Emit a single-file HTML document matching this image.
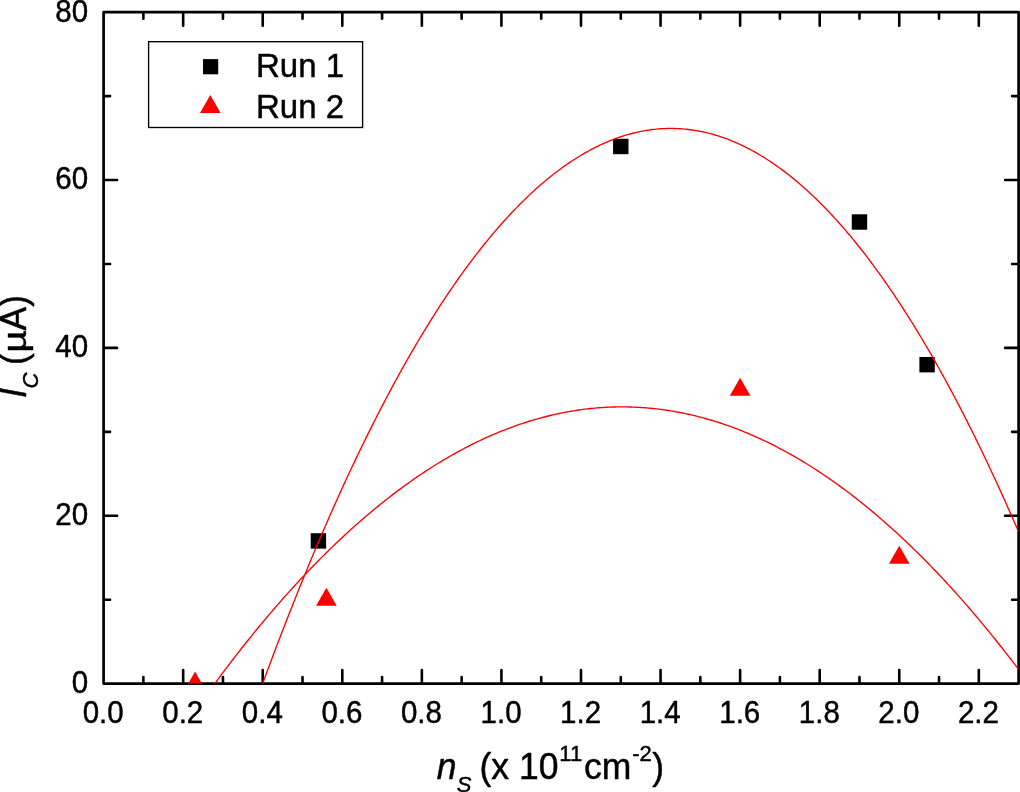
<!DOCTYPE html>
<html lang="en"><head><meta charset="utf-8"><title>Ic vs ns</title>
<style>html,body{margin:0;padding:0;background:#fff;overflow:hidden}svg{display:block}text{font-family:"Liberation Sans", Arial, Helvetica, sans-serif;fill:#000;stroke:#000;stroke-width:0.45px;stroke-linejoin:round}</style>
</head><body>
<svg width="1020" height="792" viewBox="0 0 1020 792">
<rect x="0" y="0" width="1020" height="792" fill="#fff"/>
<defs><clipPath id="plot"><rect x="103.60" y="12.20" width="915.00" height="671.40"/></clipPath></defs>
<g stroke="#000" stroke-width="2.60" stroke-linecap="round" fill="none">
<line x1="143.38" y1="683.00" x2="143.38" y2="677.10"/>
<line x1="143.38" y1="12.80" x2="143.38" y2="18.70"/>
<line x1="183.17" y1="683.00" x2="183.17" y2="670.10"/>
<line x1="183.17" y1="12.80" x2="183.17" y2="25.70"/>
<line x1="222.95" y1="683.00" x2="222.95" y2="677.10"/>
<line x1="222.95" y1="12.80" x2="222.95" y2="18.70"/>
<line x1="262.73" y1="683.00" x2="262.73" y2="670.10"/>
<line x1="262.73" y1="12.80" x2="262.73" y2="25.70"/>
<line x1="302.51" y1="683.00" x2="302.51" y2="677.10"/>
<line x1="302.51" y1="12.80" x2="302.51" y2="18.70"/>
<line x1="342.30" y1="683.00" x2="342.30" y2="670.10"/>
<line x1="342.30" y1="12.80" x2="342.30" y2="25.70"/>
<line x1="382.08" y1="683.00" x2="382.08" y2="677.10"/>
<line x1="382.08" y1="12.80" x2="382.08" y2="18.70"/>
<line x1="421.86" y1="683.00" x2="421.86" y2="670.10"/>
<line x1="421.86" y1="12.80" x2="421.86" y2="25.70"/>
<line x1="461.64" y1="683.00" x2="461.64" y2="677.10"/>
<line x1="461.64" y1="12.80" x2="461.64" y2="18.70"/>
<line x1="501.43" y1="683.00" x2="501.43" y2="670.10"/>
<line x1="501.43" y1="12.80" x2="501.43" y2="25.70"/>
<line x1="541.21" y1="683.00" x2="541.21" y2="677.10"/>
<line x1="541.21" y1="12.80" x2="541.21" y2="18.70"/>
<line x1="580.99" y1="683.00" x2="580.99" y2="670.10"/>
<line x1="580.99" y1="12.80" x2="580.99" y2="25.70"/>
<line x1="620.77" y1="683.00" x2="620.77" y2="677.10"/>
<line x1="620.77" y1="12.80" x2="620.77" y2="18.70"/>
<line x1="660.56" y1="683.00" x2="660.56" y2="670.10"/>
<line x1="660.56" y1="12.80" x2="660.56" y2="25.70"/>
<line x1="700.34" y1="683.00" x2="700.34" y2="677.10"/>
<line x1="700.34" y1="12.80" x2="700.34" y2="18.70"/>
<line x1="740.12" y1="683.00" x2="740.12" y2="670.10"/>
<line x1="740.12" y1="12.80" x2="740.12" y2="25.70"/>
<line x1="779.90" y1="683.00" x2="779.90" y2="677.10"/>
<line x1="779.90" y1="12.80" x2="779.90" y2="18.70"/>
<line x1="819.69" y1="683.00" x2="819.69" y2="670.10"/>
<line x1="819.69" y1="12.80" x2="819.69" y2="25.70"/>
<line x1="859.47" y1="683.00" x2="859.47" y2="677.10"/>
<line x1="859.47" y1="12.80" x2="859.47" y2="18.70"/>
<line x1="899.25" y1="683.00" x2="899.25" y2="670.10"/>
<line x1="899.25" y1="12.80" x2="899.25" y2="25.70"/>
<line x1="939.03" y1="683.00" x2="939.03" y2="677.10"/>
<line x1="939.03" y1="12.80" x2="939.03" y2="18.70"/>
<line x1="978.82" y1="683.00" x2="978.82" y2="670.10"/>
<line x1="978.82" y1="12.80" x2="978.82" y2="25.70"/>
<line x1="104.20" y1="599.68" x2="110.10" y2="599.68"/>
<line x1="1018.00" y1="599.68" x2="1012.10" y2="599.68"/>
<line x1="104.20" y1="515.75" x2="117.10" y2="515.75"/>
<line x1="1018.00" y1="515.75" x2="1005.10" y2="515.75"/>
<line x1="104.20" y1="431.83" x2="110.10" y2="431.83"/>
<line x1="1018.00" y1="431.83" x2="1012.10" y2="431.83"/>
<line x1="104.20" y1="347.90" x2="117.10" y2="347.90"/>
<line x1="1018.00" y1="347.90" x2="1005.10" y2="347.90"/>
<line x1="104.20" y1="263.98" x2="110.10" y2="263.98"/>
<line x1="1018.00" y1="263.98" x2="1012.10" y2="263.98"/>
<line x1="104.20" y1="180.05" x2="117.10" y2="180.05"/>
<line x1="1018.00" y1="180.05" x2="1005.10" y2="180.05"/>
<line x1="104.20" y1="96.12" x2="110.10" y2="96.12"/>
<line x1="1018.00" y1="96.12" x2="1012.10" y2="96.12"/>
</g>
<rect x="103.60" y="12.20" width="915.00" height="671.40" fill="none" stroke="#000" stroke-width="2.70" stroke-linejoin="round"/>
<g fill="#000">
<rect x="310.73" y="533.23" width="15.40" height="15.40"/>
<rect x="613.07" y="138.78" width="15.40" height="15.40"/>
<rect x="851.77" y="214.31" width="15.40" height="15.40"/>
<rect x="919.40" y="356.99" width="15.40" height="15.40"/>
</g>
<g fill="#f00" clip-path="url(#plot)">
<polygon points="195.10,671.60 205.40,689.60 184.80,689.60"/>
<polygon points="326.38,587.68 336.68,605.68 316.08,605.68"/>
<polygon points="740.12,377.86 750.42,395.86 729.82,395.86"/>
<polygon points="899.25,545.71 909.55,563.71 888.95,563.71"/>
</g>
<g fill="none" stroke="#f00" stroke-width="1.35" clip-path="url(#plot)" stroke-linejoin="round">
<polyline points="254.77,705.18 256.76,699.68 258.75,694.20 260.74,688.75 262.73,683.33 264.72,677.93 266.71,672.56 268.70,667.21 270.69,661.89 272.68,656.60 274.67,651.33 276.65,646.10 278.64,640.88 280.63,635.70 282.62,630.54 284.61,625.40 286.60,620.29 288.59,615.21 290.58,610.16 292.57,605.13 294.56,600.13 296.55,595.15 298.53,590.20 300.52,585.28 302.51,580.38 304.50,575.51 306.49,570.67 308.48,565.85 310.47,561.06 312.46,556.30 314.45,551.56 316.44,546.85 318.43,542.16 320.42,537.50 322.40,532.87 324.39,528.26 326.38,523.68 328.37,519.13 330.36,514.60 332.35,510.10 334.34,505.63 336.33,501.18 338.32,496.76 340.31,492.36 342.30,487.99 344.28,483.65 346.27,479.34 348.26,475.05 350.25,470.78 352.24,466.55 354.23,462.34 356.22,458.15 358.21,453.99 360.20,449.86 362.19,445.76 364.18,441.68 366.17,437.63 368.15,433.60 370.14,429.60 372.13,425.63 374.12,421.68 376.11,417.76 378.10,413.87 380.09,410.00 382.08,406.16 384.07,402.34 386.06,398.55 388.05,394.79 390.03,391.06 392.02,387.35 394.01,383.66 396.00,380.01 397.99,376.38 399.98,372.77 401.97,369.20 403.96,365.65 405.95,362.12 407.94,358.62 409.93,355.15 411.92,351.71 413.90,348.29 415.89,344.89 417.88,341.53 419.87,338.19 421.86,334.87 423.85,331.59 425.84,328.33 427.83,325.09 429.82,321.88 431.81,318.70 433.80,315.55 435.78,312.42 437.77,309.32 439.76,306.24 441.75,303.19 443.74,300.17 445.73,297.17 447.72,294.20 449.71,291.25 451.70,288.34 453.69,285.45 455.68,282.58 457.67,279.74 459.65,276.93 461.64,274.14 463.63,271.38 465.62,268.65 467.61,265.94 469.60,263.26 471.59,260.61 473.58,257.98 475.57,255.38 477.56,252.81 479.55,250.26 481.53,247.73 483.52,245.24 485.51,242.77 487.50,240.33 489.49,237.91 491.48,235.52 493.47,233.16 495.46,230.82 497.45,228.51 499.44,226.22 501.43,223.96 503.42,221.73 505.40,219.53 507.39,217.35 509.38,215.20 511.37,213.07 513.36,210.97 515.35,208.90 517.34,206.85 519.33,204.83 521.32,202.83 523.31,200.86 525.30,198.92 527.28,197.01 529.27,195.12 531.26,193.26 533.25,191.42 535.24,189.61 537.23,187.83 539.22,186.07 541.21,184.34 543.20,182.64 545.19,180.96 547.18,179.31 549.17,177.68 551.15,176.08 553.14,174.51 555.13,172.96 557.12,171.44 559.11,169.95 561.10,168.48 563.09,167.04 565.08,165.63 567.07,164.24 569.06,162.88 571.05,161.55 573.03,160.24 575.02,158.95 577.01,157.70 579.00,156.47 580.99,155.27 582.98,154.09 584.97,152.94 586.96,151.82 588.95,150.72 590.94,149.65 592.93,148.60 594.92,147.58 596.90,146.59 598.89,145.63 600.88,144.69 602.87,143.77 604.86,142.89 606.85,142.03 608.84,141.19 610.83,140.39 612.82,139.61 614.81,138.85 616.80,138.12 618.78,137.42 620.77,136.75 622.76,136.10 624.75,135.47 626.74,134.88 628.73,134.31 630.72,133.77 632.71,133.25 634.70,132.76 636.69,132.29 638.68,131.86 640.67,131.44 642.65,131.06 644.64,130.70 646.63,130.37 648.62,130.06 650.61,129.78 652.60,129.53 654.59,129.30 656.58,129.10 658.57,128.93 660.56,128.78 662.55,128.66 664.53,128.56 666.52,128.49 668.51,128.45 670.50,128.44 672.49,128.45 674.48,128.48 676.47,128.55 678.46,128.64 680.45,128.75 682.44,128.90 684.43,129.06 686.42,129.26 688.40,129.48 690.39,129.73 692.38,130.00 694.37,130.30 696.36,130.63 698.35,130.98 700.34,131.36 702.33,131.77 704.32,132.20 706.31,132.66 708.30,133.15 710.28,133.66 712.27,134.20 714.26,134.76 716.25,135.35 718.24,135.97 720.23,136.61 722.22,137.28 724.21,137.98 726.20,138.70 728.19,139.45 730.18,140.23 732.17,141.03 734.15,141.86 736.14,142.71 738.13,143.60 740.12,144.50 742.11,145.44 744.10,146.40 746.09,147.38 748.08,148.40 750.07,149.44 752.06,150.50 754.05,151.59 756.03,152.71 758.02,153.86 760.01,155.03 762.00,156.23 763.99,157.45 765.98,158.70 767.97,159.98 769.96,161.28 771.95,162.61 773.94,163.97 775.93,165.35 777.92,166.76 779.90,168.19 781.89,169.66 783.88,171.14 785.87,172.66 787.86,174.20 789.85,175.77 791.84,177.36 793.83,178.98 795.82,180.62 797.81,182.30 799.80,184.00 801.78,185.72 803.77,187.47 805.76,189.25 807.75,191.06 809.74,192.89 811.73,194.74 813.72,196.63 815.71,198.54 817.70,200.47 819.69,202.44 821.68,204.43 823.67,206.44 825.65,208.48 827.64,210.55 829.63,212.65 831.62,214.77 833.61,216.92 835.60,219.09 837.59,221.29 839.58,223.52 841.57,225.77 843.56,228.05 845.55,230.35 847.53,232.69 849.52,235.05 851.51,237.43 853.50,239.84 855.49,242.28 857.48,244.74 859.47,247.23 861.46,249.75 863.45,252.29 865.44,254.86 867.43,257.46 869.42,260.08 871.40,262.73 873.39,265.41 875.38,268.11 877.37,270.83 879.36,273.59 881.35,276.37 883.34,279.18 885.33,282.01 887.32,284.87 889.31,287.76 891.30,290.67 893.28,293.61 895.27,296.57 897.26,299.56 899.25,302.58 901.24,305.63 903.23,308.70 905.22,311.80 907.21,314.92 909.20,318.07 911.19,321.25 913.18,324.45 915.17,327.68 917.15,330.93 919.14,334.21 921.13,337.52 923.12,340.86 925.11,344.22 927.10,347.61 929.09,351.02 931.08,354.46 933.07,357.93 935.06,361.42 937.05,364.94 939.03,368.48 941.02,372.06 943.01,375.66 945.00,379.28 946.99,382.93 948.98,386.61 950.97,390.31 952.96,394.04 954.95,397.80 956.94,401.58 958.93,405.39 960.92,409.23 962.90,413.09 964.89,416.98 966.88,420.89 968.87,424.84 970.86,428.80 972.85,432.80 974.84,436.82 976.83,440.87 978.82,444.94 980.81,449.04 982.80,453.16 984.78,457.32 986.77,461.50 988.76,465.70 990.75,469.93 992.74,474.19 994.73,478.48 996.72,482.79 998.71,487.12 1000.70,491.49 1002.69,495.88 1004.68,500.29 1006.67,504.74 1008.65,509.21 1010.64,513.70 1012.63,518.22 1014.62,522.77 1016.61,527.35 1018.60,531.95"/>
<polyline points="197.09,708.15 199.08,705.34 201.07,702.54 203.06,699.75 205.05,696.97 207.03,694.21 209.02,691.47 211.01,688.73 213.00,686.01 214.99,683.30 216.98,680.60 218.97,677.92 220.96,675.25 222.95,672.60 224.94,669.96 226.93,667.33 228.92,664.71 230.90,662.11 232.89,659.52 234.88,656.94 236.87,654.38 238.86,651.83 240.85,649.29 242.84,646.77 244.83,644.26 246.82,641.76 248.81,639.28 250.80,636.81 252.78,634.35 254.77,631.90 256.76,629.47 258.75,627.05 260.74,624.65 262.73,622.26 264.72,619.88 266.71,617.52 268.70,615.16 270.69,612.82 272.68,610.50 274.67,608.19 276.65,605.89 278.64,603.60 280.63,601.33 282.62,599.07 284.61,596.82 286.60,594.59 288.59,592.37 290.58,590.16 292.57,587.97 294.56,585.79 296.55,583.62 298.53,581.47 300.52,579.33 302.51,577.20 304.50,575.09 306.49,572.99 308.48,570.90 310.47,568.82 312.46,566.76 314.45,564.71 316.44,562.68 318.43,560.66 320.42,558.65 322.40,556.65 324.39,554.67 326.38,552.70 328.37,550.75 330.36,548.80 332.35,546.87 334.34,544.96 336.33,543.06 338.32,541.17 340.31,539.29 342.30,537.43 344.28,535.58 346.27,533.74 348.26,531.92 350.25,530.10 352.24,528.31 354.23,526.52 356.22,524.75 358.21,522.99 360.20,521.25 362.19,519.52 364.18,517.80 366.17,516.10 368.15,514.40 370.14,512.73 372.13,511.06 374.12,509.41 376.11,507.77 378.10,506.14 380.09,504.53 382.08,502.93 384.07,501.35 386.06,499.77 388.05,498.21 390.03,496.67 392.02,495.13 394.01,493.61 396.00,492.11 397.99,490.61 399.98,489.13 401.97,487.67 403.96,486.21 405.95,484.77 407.94,483.34 409.93,481.93 411.92,480.53 413.90,479.14 415.89,477.77 417.88,476.41 419.87,475.06 421.86,473.72 423.85,472.40 425.84,471.09 427.83,469.80 429.82,468.51 431.81,467.24 433.80,465.99 435.78,464.75 437.77,463.52 439.76,462.30 441.75,461.10 443.74,459.91 445.73,458.73 447.72,457.57 449.71,456.42 451.70,455.28 453.69,454.16 455.68,453.05 457.67,451.95 459.65,450.86 461.64,449.79 463.63,448.74 465.62,447.69 467.61,446.66 469.60,445.64 471.59,444.64 473.58,443.64 475.57,442.67 477.56,441.70 479.55,440.75 481.53,439.81 483.52,438.88 485.51,437.97 487.50,437.07 489.49,436.19 491.48,435.31 493.47,434.45 495.46,433.61 497.45,432.77 499.44,431.95 501.43,431.15 503.42,430.35 505.40,429.57 507.39,428.81 509.38,428.05 511.37,427.31 513.36,426.58 515.35,425.87 517.34,425.17 519.33,424.48 521.32,423.80 523.31,423.14 525.30,422.49 527.28,421.86 529.27,421.24 531.26,420.63 533.25,420.03 535.24,419.45 537.23,418.88 539.22,418.33 541.21,417.78 543.20,417.25 545.19,416.74 547.18,416.23 549.17,415.74 551.15,415.27 553.14,414.80 555.13,414.35 557.12,413.92 559.11,413.49 561.10,413.08 563.09,412.68 565.08,412.30 567.07,411.93 569.06,411.57 571.05,411.23 573.03,410.90 575.02,410.58 577.01,410.27 579.00,409.98 580.99,409.70 582.98,409.44 584.97,409.18 586.96,408.94 588.95,408.72 590.94,408.51 592.93,408.31 594.92,408.12 596.90,407.95 598.89,407.79 600.88,407.64 602.87,407.51 604.86,407.39 606.85,407.28 608.84,407.19 610.83,407.11 612.82,407.04 614.81,406.98 616.80,406.94 618.78,406.92 620.77,406.90 622.76,406.90 624.75,406.91 626.74,406.94 628.73,406.98 630.72,407.03 632.71,407.09 634.70,407.17 636.69,407.26 638.68,407.37 640.67,407.48 642.65,407.61 644.64,407.76 646.63,407.91 648.62,408.08 650.61,408.27 652.60,408.47 654.59,408.68 656.58,408.90 658.57,409.13 660.56,409.38 662.55,409.65 664.53,409.92 666.52,410.21 668.51,410.51 670.50,410.83 672.49,411.16 674.48,411.50 676.47,411.86 678.46,412.22 680.45,412.61 682.44,413.00 684.43,413.41 686.42,413.83 688.40,414.27 690.39,414.71 692.38,415.17 694.37,415.65 696.36,416.14 698.35,416.64 700.34,417.15 702.33,417.68 704.32,418.22 706.31,418.77 708.30,419.34 710.28,419.92 712.27,420.51 714.26,421.11 716.25,421.73 718.24,422.37 720.23,423.01 722.22,423.67 724.21,424.34 726.20,425.03 728.19,425.73 730.18,426.44 732.17,427.16 734.15,427.90 736.14,428.65 738.13,429.42 740.12,430.20 742.11,430.99 744.10,431.79 746.09,432.61 748.08,433.44 750.07,434.28 752.06,435.14 754.05,436.01 756.03,436.89 758.02,437.79 760.01,438.70 762.00,439.62 763.99,440.56 765.98,441.51 767.97,442.47 769.96,443.45 771.95,444.44 773.94,445.44 775.93,446.46 777.92,447.48 779.90,448.53 781.89,449.58 783.88,450.65 785.87,451.73 787.86,452.83 789.85,453.93 791.84,455.05 793.83,456.19 795.82,457.34 797.81,458.50 799.80,459.67 801.78,460.86 803.77,462.06 805.76,463.27 807.75,464.50 809.74,465.74 811.73,466.99 813.72,468.26 815.71,469.54 817.70,470.83 819.69,472.14 821.68,473.46 823.67,474.79 825.65,476.13 827.64,477.49 829.63,478.87 831.62,480.25 833.61,481.65 835.60,483.06 837.59,484.49 839.58,485.92 841.57,487.38 843.56,488.84 845.55,490.32 847.53,491.81 849.52,493.31 851.51,494.83 853.50,496.36 855.49,497.90 857.48,499.46 859.47,501.03 861.46,502.61 863.45,504.21 865.44,505.82 867.43,507.44 869.42,509.08 871.40,510.73 873.39,512.39 875.38,514.07 877.37,515.76 879.36,517.46 881.35,519.17 883.34,520.90 885.33,522.64 887.32,524.40 889.31,526.17 891.30,527.95 893.28,529.74 895.27,531.55 897.26,533.37 899.25,535.21 901.24,537.05 903.23,538.92 905.22,540.79 907.21,542.68 909.20,544.58 911.19,546.49 913.18,548.42 915.17,550.36 917.15,552.31 919.14,554.28 921.13,556.26 923.12,558.25 925.11,560.25 927.10,562.27 929.09,564.31 931.08,566.35 933.07,568.41 935.06,570.48 937.05,572.57 939.03,574.67 941.02,576.78 943.01,578.90 945.00,581.04 946.99,583.19 948.98,585.36 950.97,587.53 952.96,589.72 954.95,591.93 956.94,594.15 958.93,596.38 960.92,598.62 962.90,600.88 964.89,603.15 966.88,605.43 968.87,607.73 970.86,610.04 972.85,612.36 974.84,614.69 976.83,617.04 978.82,619.41 980.81,621.78 982.80,624.17 984.78,626.57 986.77,628.99 988.76,631.42 990.75,633.86 992.74,636.31 994.73,638.78 996.72,641.26 998.71,643.76 1000.70,646.27 1002.69,648.79 1004.68,651.32 1006.67,653.87 1008.65,656.43 1010.64,659.00 1012.63,661.59 1014.62,664.19 1016.61,666.80 1018.60,669.43"/>
</g>
<text transform="translate(103.20,722.60) scale(1.000,1.032)" font-size="29.5" text-anchor="middle">0.0</text>
<text transform="translate(182.77,722.60) scale(1.000,1.032)" font-size="29.5" text-anchor="middle">0.2</text>
<text transform="translate(262.33,722.60) scale(1.000,1.032)" font-size="29.5" text-anchor="middle">0.4</text>
<text transform="translate(341.90,722.60) scale(1.000,1.032)" font-size="29.5" text-anchor="middle">0.6</text>
<text transform="translate(421.46,722.60) scale(1.000,1.032)" font-size="29.5" text-anchor="middle">0.8</text>
<text transform="translate(501.03,722.60) scale(1.000,1.032)" font-size="29.5" text-anchor="middle">1.0</text>
<text transform="translate(580.59,722.60) scale(1.000,1.032)" font-size="29.5" text-anchor="middle">1.2</text>
<text transform="translate(660.16,722.60) scale(1.000,1.032)" font-size="29.5" text-anchor="middle">1.4</text>
<text transform="translate(739.72,722.60) scale(1.000,1.032)" font-size="29.5" text-anchor="middle">1.6</text>
<text transform="translate(819.29,722.60) scale(1.000,1.032)" font-size="29.5" text-anchor="middle">1.8</text>
<text transform="translate(898.85,722.60) scale(1.000,1.032)" font-size="29.5" text-anchor="middle">2.0</text>
<text transform="translate(978.42,722.60) scale(1.000,1.032)" font-size="29.5" text-anchor="middle">2.2</text>
<text transform="translate(88.10,693.00) scale(1.000,1.032)" font-size="29.5" text-anchor="end">0</text>
<text transform="translate(88.10,525.15) scale(1.000,1.032)" font-size="29.5" text-anchor="end">20</text>
<text transform="translate(88.10,357.30) scale(1.000,1.032)" font-size="29.5" text-anchor="end">40</text>
<text transform="translate(88.10,189.45) scale(1.000,1.032)" font-size="29.5" text-anchor="end">60</text>
<text transform="translate(88.10,21.60) scale(1.000,1.032)" font-size="29.5" text-anchor="end">80</text>
<rect x="148.6" y="41.7" width="214.0" height="85.8" fill="#fff" stroke="#000" stroke-width="1.35"/>
<rect x="203.00" y="59.10" width="15.2" height="15.2" fill="#000"/>
<polygon points="210.30,94.90 220.60,112.90 200.00,112.90" fill="#f00"/>
<text transform="translate(256.00,77.40) scale(1.000,1.032)" font-size="33.0">Run 1</text>
<text transform="translate(256.00,117.80) scale(1.000,1.032)" font-size="33.0">Run 2</text>
<text transform="translate(436.70,779.00) scale(1.000,1.032)" font-size="35.5" font-style="italic">n</text>
<text transform="translate(456.80,792.00) scale(1.000,1.032)" font-size="22.0" font-style="italic">S</text>
<text transform="translate(479.50,779.00) scale(1.000,1.032)" font-size="35.5">(x 10</text>
<text transform="translate(559.30,761.20) scale(1.000,1.032)" font-size="22.0">11</text>
<text transform="translate(584.00,779.00) scale(1.000,1.032)" font-size="35.5">cm</text>
<text transform="translate(632.30,761.20) scale(1.000,1.032)" font-size="22.0">-2</text>
<text transform="translate(652.20,779.00) scale(1.000,1.032)" font-size="35.5">)</text>
<g transform="translate(25.8,398.0) rotate(-90)">
<text transform="translate(0.00,0.00) scale(1.000,1.032)" font-size="35.5" font-style="italic">I</text>
<text transform="translate(9.50,12.40) scale(1.000,1.032)" font-size="22.0" font-style="italic">C</text>
<text transform="translate(33.00,0.00) scale(1.000,1.032)" font-size="35.5">(</text>
<text transform="translate(45.60,0.00) scale(1.080,0.930)" font-size="35.5">µ</text>
<text transform="translate(67.40,0.00) scale(1.000,1.032)" font-size="35.5">A</text>
<text transform="translate(91.20,0.00) scale(1.000,1.032)" font-size="35.5">)</text>
</g>
</svg>
</body></html>
